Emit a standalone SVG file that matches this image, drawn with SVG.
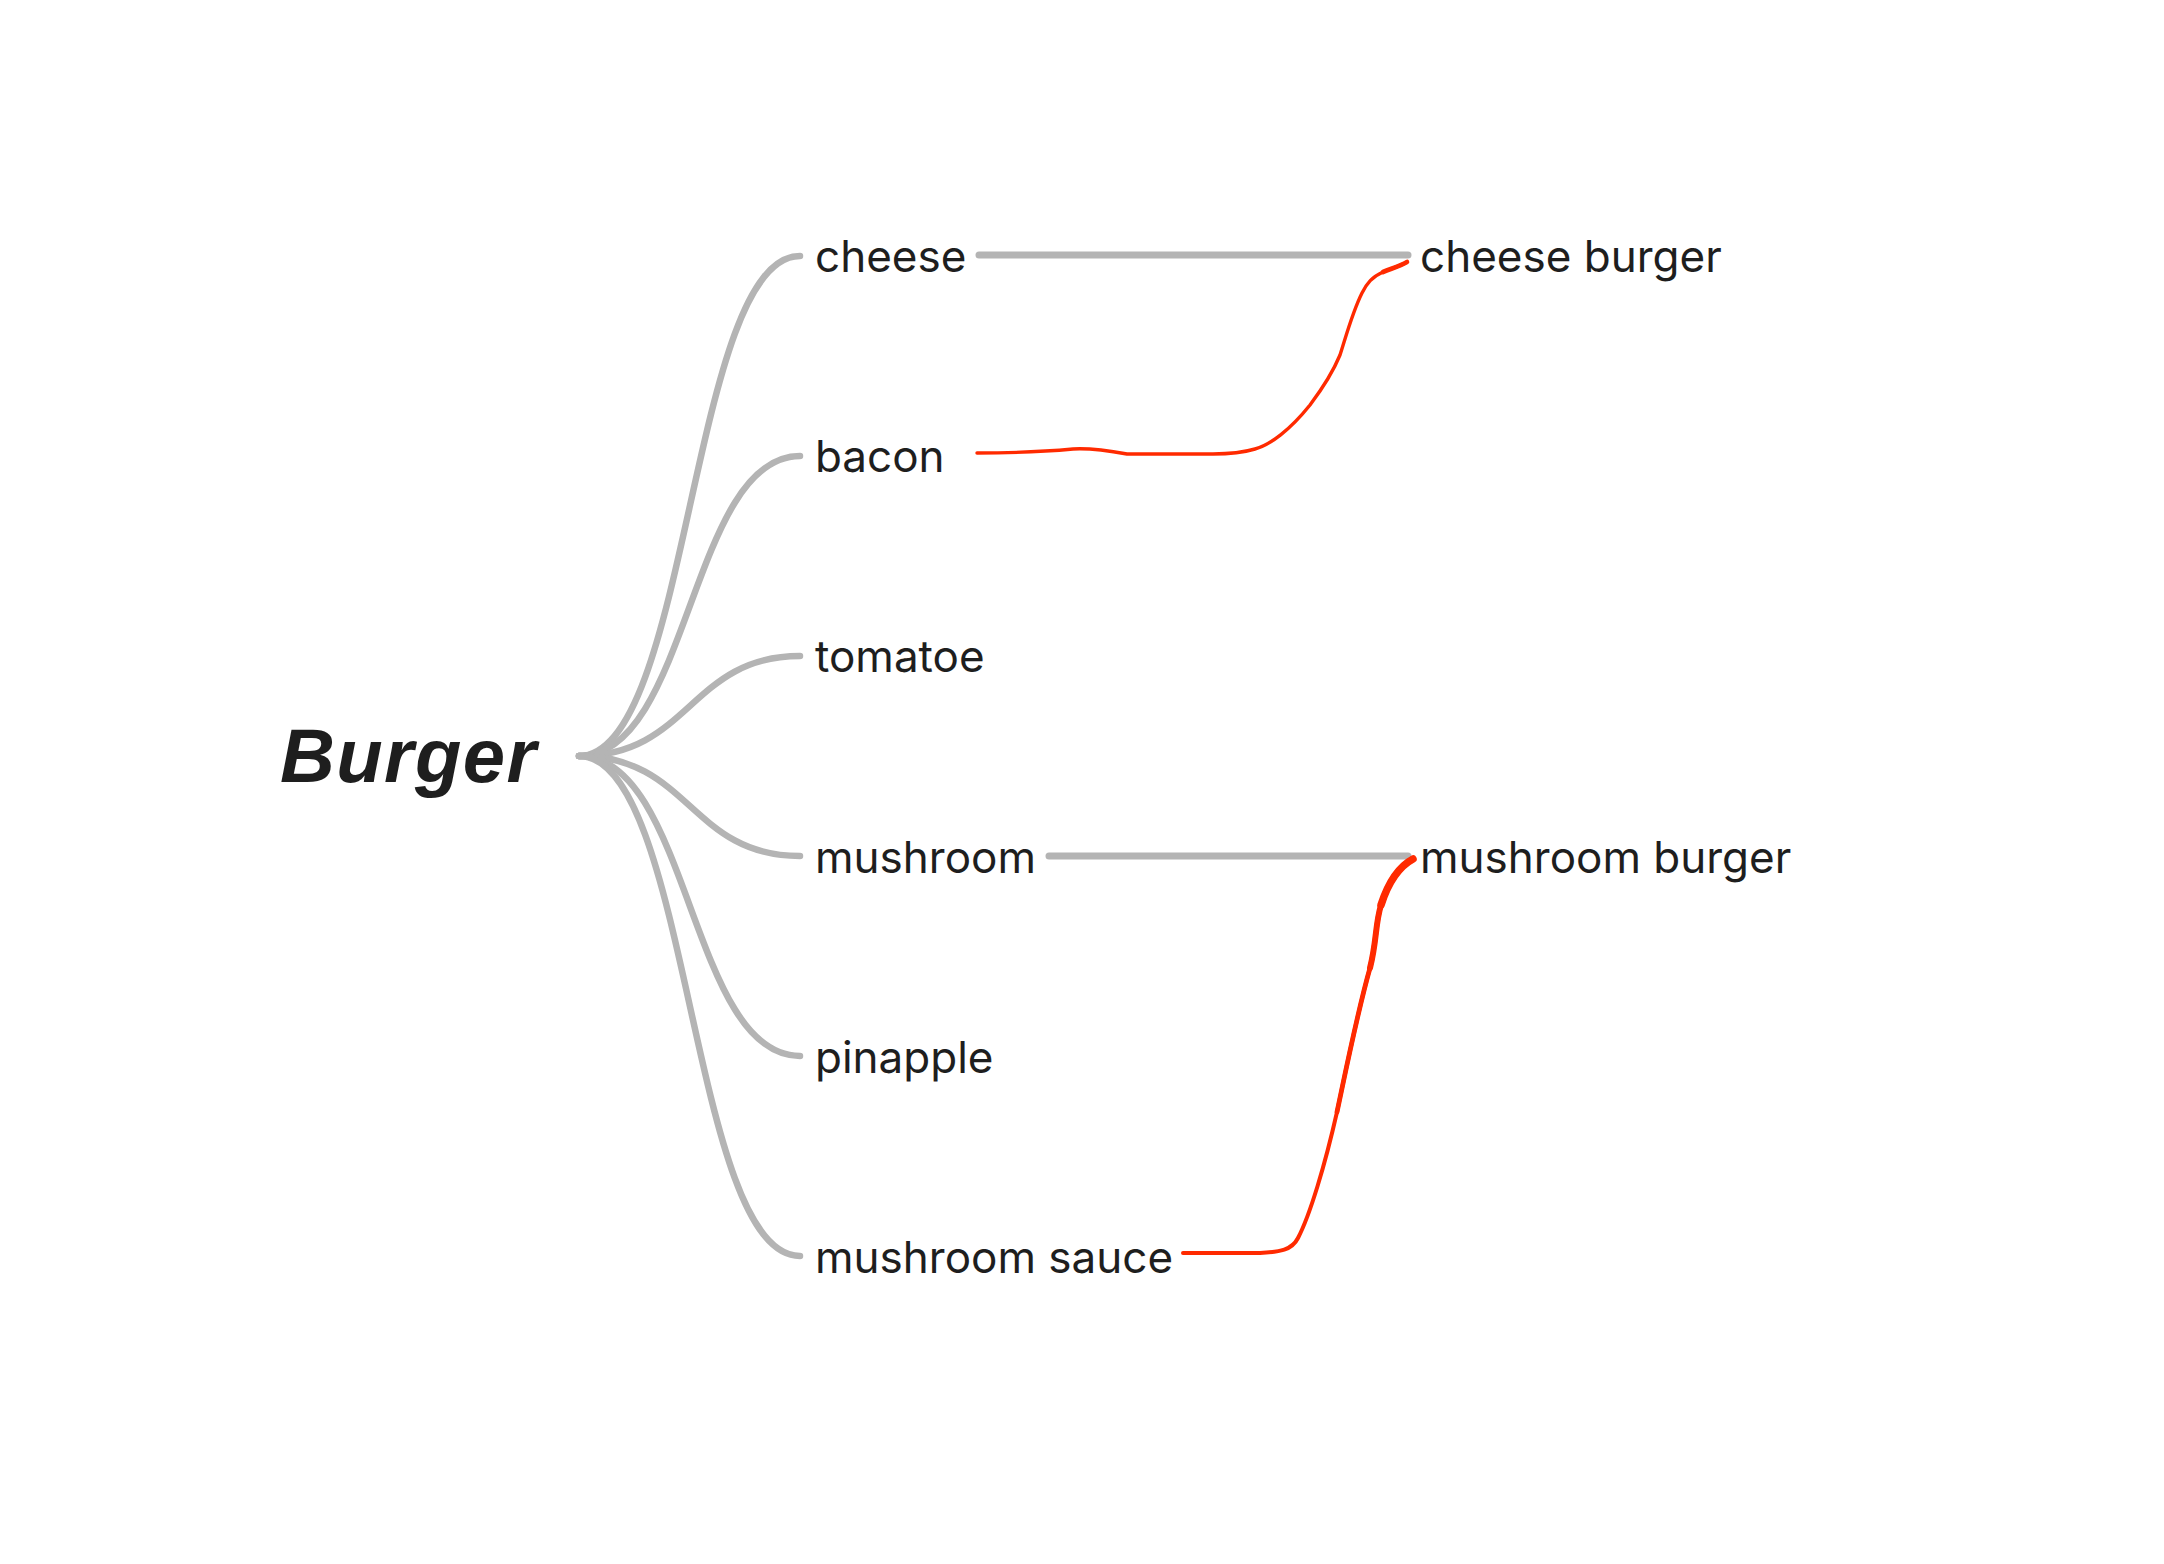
<svg xmlns="http://www.w3.org/2000/svg" width="2164" height="1564" viewBox="0 0 2164 1564">
<style>
.bg{fill:#ffffff}
.gray{fill:none;stroke:#b4b4b4;stroke-width:6.5;stroke-linecap:round;stroke-linejoin:round}
.grayh{fill:none;stroke:#b4b4b4;stroke-width:7;stroke-linecap:round}
.red{fill:none;stroke:#ff2a00;stroke-linecap:round;stroke-linejoin:round}
.lbl{font-family:Inter,"Liberation Sans",sans-serif;font-size:44px;fill:#1e1e1e}
.root{font-family:"Liberation Sans",sans-serif;font-size:76px;font-weight:bold;font-style:italic;fill:#1e1e1e}
</style>
<rect class="bg" x="0" y="0" width="2164" height="1564"/>
<g id="connectors">
<path class="gray" d="M579,756 C690,756 690,256 800,256"/>
<path class="gray" d="M579,756 C690,756 690,456 800,456"/>
<path class="gray" d="M579,756 C690,756 690,656 800,656"/>
<path class="gray" d="M579,756 C690,756 690,856 800,856"/>
<path class="gray" d="M579,756 C690,756 690,1056 800,1056"/>
<path class="gray" d="M579,756 C690,756 690,1256 800,1256"/>
<line class="grayh" x1="979" y1="255" x2="1408" y2="255"/>
<line class="grayh" x1="1049" y1="856" x2="1408" y2="856"/>
<path class="red" stroke-width="3.4" d="M977,453 C1010,453 1040,452 1073,449 C1090,448 1105,450 1127,454 L1213,454 C1230,454 1245,452 1255,449 C1270,445 1290,430 1310,405 C1325,385 1333,372 1340,355 C1345,340 1352,313 1362,293 C1367,283 1372,277 1383,272 C1393,268 1400,266 1407,262"/>
<path class="red" stroke-width="4.6" d="M1383,272 C1393,268 1400,266 1407,262"/>
<path class="red" stroke-width="4" d="M1183,1253 L1260,1253 C1280,1252 1292,1250 1298,1238 C1310,1215 1325,1165 1337,1112 C1348,1060 1358,1010 1370,968 C1377,940 1375,925 1381,905 C1389,880 1400,866 1413,859"/>
<path class="red" stroke-width="4.8" d="M1337,1112 C1348,1060 1358,1010 1370,968 C1377,940 1375,925 1381,905 C1389,880 1400,866 1413,859"/>
<path class="red" stroke-width="6" d="M1370,968 C1377,940 1375,925 1381,905 C1389,880 1400,866 1413,859"/>
<path class="red" stroke-width="7.5" d="M1381,905 C1389,880 1400,866 1413,859"/>
</g>
<g id="node-burger"><text class="root" x="280" y="782" textLength="256" lengthAdjust="spacing">Burger</text></g>
<g id="node-cheese"><text class="lbl" x="815" y="272">cheese</text></g>
<g id="node-bacon"><text class="lbl" x="815" y="472">bacon</text></g>
<g id="node-tomatoe"><text class="lbl" x="815" y="672">tomatoe</text></g>
<g id="node-mushroom"><text class="lbl" x="815" y="873">mushroom</text></g>
<g id="node-pinapple"><text class="lbl" x="815" y="1073">pinapple</text></g>
<g id="node-mushroom-sauce"><text class="lbl" x="815" y="1273">mushroom sauce</text></g>
<g id="node-cheese-burger"><text class="lbl" x="1420" y="272">cheese burger</text></g>
<g id="node-mushroom-burger"><text class="lbl" x="1420" y="873">mushroom burger</text></g>
</svg>
